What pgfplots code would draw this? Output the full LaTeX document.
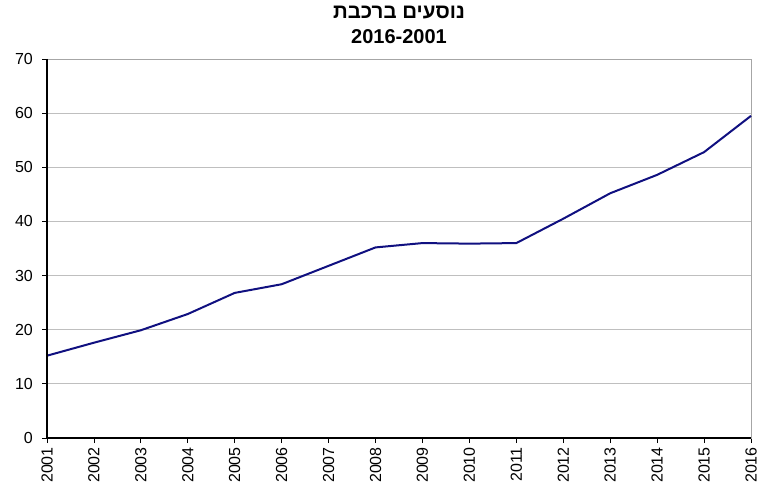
\documentclass[border=0pt]{standalone}
\usepackage{fontspec}
\setmainfont{Liberation Sans}
\newfontfamily\hebfont[Script=Hebrew]{Liberation Sans}
\TeXXeTstate=1
\usepackage{pgfplots}
\usetikzlibrary{calc}
\pgfplotsset{compat=1.18}
\definecolor{navyline}{RGB}{16,16,128}
\begin{document}
\begin{tikzpicture}
\begin{axis}[name=ax, scale only axis, width=704bp, height=379bp,
 xmin=2001, xmax=2016, ymin=0, ymax=70, ytick distance=10, xtick distance=1,
 /pgf/number format/1000 sep={}, /pgf/number format/assume math mode=true,
 ymajorgrids, grid style={black!25, line width=0.8bp},
 axis line style={black!35, line width=0.8bp},
 xtick pos=left, ytick pos=left,
 tick align=outside, major tick length=5bp, tick style={black, line width=0.8bp},
 tick label style={font=\fontsize{16bp}{19bp}\selectfont},
 yticklabel style={anchor=east, inner sep=0pt},
 yticklabel shift=9bp,
 xticklabel style={rotate=90, anchor=east, inner sep=0pt},
 xticklabel shift=4bp,
 clip=false]
\addplot[navyline, line width=2bp] coordinates {
(2001,15.2) (2002,17.6) (2003,19.9) (2004,22.9) (2005,26.8) (2006,28.4)
(2007,31.8) (2008,35.2) (2009,36.0) (2010,35.9) (2011,36.0) (2012,40.5)
(2013,45.2) (2014,48.6) (2015,52.8) (2016,59.5)};
\draw[black, line width=1.1bp] (rel axis cs:0,1) -- (rel axis cs:0,0) -- (rel axis cs:1,0);
\end{axis}
\node[font=\fontsize{20.5bp}{24bp}\selectfont\bfseries, anchor=center] at ($(ax.north)+(0,46bp)$) {\hebfont\beginR נוסעים ברכבת\endR};
\node[font=\fontsize{20bp}{24bp}\selectfont\bfseries, anchor=center] at ($(ax.north)+(0,22bp)$) {2016-2001};
\pgfresetboundingbox
\path[use as bounding box] ($(ax.south west)+(-47bp,-56bp)$) rectangle ($(ax.north east)+(17bp,59bp)$);
\end{tikzpicture}
\end{document}
